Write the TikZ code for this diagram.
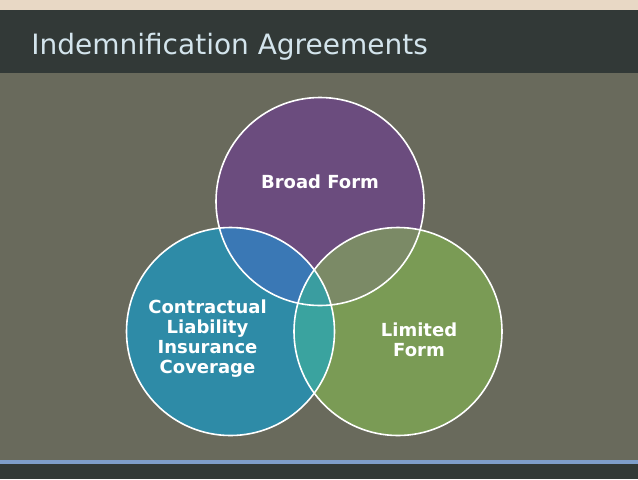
\documentclass[tikz,border=0pt]{standalone}
\usepackage{fontspec}
\setmainfont{DejaVu Sans}
\usepackage{xcolor}
\usetikzlibrary{positioning,calc}
\definecolor{topstrip}{HTML}{E8D8C5}
\definecolor{darkbar}{HTML}{323937}
\definecolor{slidebg}{HTML}{696A5C}
\definecolor{rulebl}{HTML}{7E9ECB}
\definecolor{titlec}{HTML}{D3E4EC}
\definecolor{broadc}{HTML}{6B4C7E}
\definecolor{contrc}{HTML}{2E8BA7}
\definecolor{limitc}{HTML}{7A9B55}
\definecolor{bcmix}{HTML}{3A78B5}
\definecolor{blmix}{HTML}{7B8A66}
\definecolor{clmix}{HTML}{3AA39F}
\definecolor{allmix}{HTML}{3A9DA0}

\begin{document}
\begin{tikzpicture}[
  x=0.75pt, y=-0.75pt,
  venn/.style={circle, minimum size=156pt, inner sep=0pt},
  ring/.style={draw=white, line width=1.2pt},
  lbl/.style={text=white, font=\bfseries\fontsize{13.5}{15}\selectfont, align=center},
]
\useasboundingbox (0,0) rectangle (638,479);
% slide background
\fill[slidebg] (0,0) rectangle (638,479);
\fill[topstrip] (0,0) rectangle (638,10);
\fill[darkbar] (0,10) rectangle (638,73);
\fill[rulebl] (0,460) rectangle (638,464);
\fill[darkbar] (0,464) rectangle (638,479);
\node[anchor=base west, text=titlec, font=\fontsize{21}{24}\selectfont, inner sep=0pt] (title) at (31,54) {Indemnification Agreements};
% circles
\node[venn, fill=broadc] (broad) at (320,201.5) {};
\node[venn, fill=contrc] (contr) at (230.5,331.5) {};
\node[venn, fill=limitc] (limit) at (398,331.5) {};
\def\rad{78pt}
% overlaps
\begin{scope}
  \clip (broad.center) circle[radius=\rad];
  \fill[bcmix] (contr.center) circle[radius=\rad];
  \fill[blmix] (limit.center) circle[radius=\rad];
\end{scope}
\begin{scope}
  \clip (contr.center) circle[radius=\rad];
  \fill[clmix] (limit.center) circle[radius=\rad];
  \clip (limit.center) circle[radius=\rad];
  \fill[allmix] (broad.center) circle[radius=\rad];
\end{scope}
\foreach \c in {broad,contr,limit}
  \draw[ring] (\c.center) circle[radius=\rad];
% labels
\node[lbl] (broadlbl) at ([yshift=14.5pt]broad.center) {Broad Form};
\node[lbl] (contrlbl) at (207.5,339) {Contractual\\Liability\\Insurance\\Coverage};
\node[lbl] (limitlbl) at (419,340) {Limited\\Form};
\end{tikzpicture}
\end{document}
